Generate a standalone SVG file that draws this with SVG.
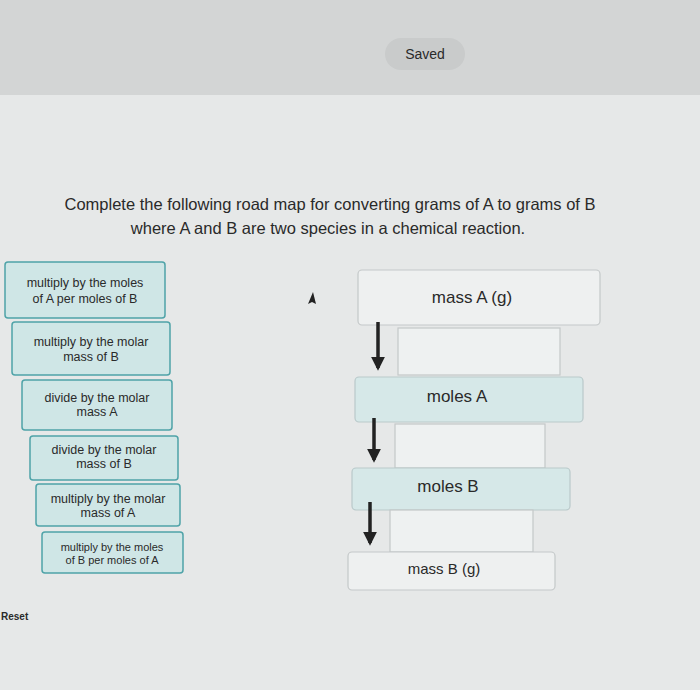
<svg xmlns="http://www.w3.org/2000/svg" width="700" height="690" viewBox="0 0 700 690">
<defs>
<style>
text{font-family:"Liberation Sans",Arial,sans-serif;fill:#2a2a2a}
.opt{fill:#cfe6e6;stroke:#4fa3a8;stroke-width:1.5}
.ot{font-size:12.5px;text-anchor:middle}
.slot{fill:#eef1f1;stroke:#c4c8c9;stroke-width:1.2}
.fill{fill:#d6e8e8;stroke:#b9c9ca;stroke-width:1.2}
.wt{fill:#eef0f0;stroke:#c4c8c9;stroke-width:1.2}
.lt{font-size:17px;text-anchor:middle}
</style>
<marker id="ah" viewBox="0 0 10 10" refX="8" refY="5" markerWidth="4" markerHeight="4" orient="auto"><path d="M0,0L10,5L0,10z" fill="#222"/></marker>
</defs>
<rect width="700" height="690" fill="#e4e6e6"/>
<rect width="700" height="95" fill="#d3d5d5"/>
<rect x="0" y="95" width="700" height="595" fill="#e6e8e8"/>
<g id="saved"><rect x="385" y="38" width="80" height="32" rx="16" fill="#c9cbcb"/><text x="425" y="59" font-size="14" text-anchor="middle">Saved</text></g>
<g id="title"><text x="330" y="210" font-size="16.5" text-anchor="middle">Complete the following road map for converting grams of A to grams of B</text><text x="328" y="234" font-size="16.5" text-anchor="middle">where A and B are two species in a chemical reaction.</text></g>
<g id="o1"><rect class="opt" x="5" y="262" width="160" height="56" rx="3"/><text class="ot" x="85" y="287">multiply by the moles</text><text class="ot" x="85" y="303">of A per moles of B</text></g>
<g id="o2"><rect class="opt" x="12" y="322" width="158" height="53" rx="3"/><text class="ot" x="91" y="346">multiply by the molar</text><text class="ot" x="91" y="361">mass of B</text></g>
<g id="o3"><rect class="opt" x="22" y="380" width="150" height="50" rx="3"/><text class="ot" x="97" y="402">divide by the molar</text><text class="ot" x="97" y="416">mass A</text></g>
<g id="o4"><rect class="opt" x="30" y="436" width="148" height="44" rx="3"/><text class="ot" x="104" y="454">divide by the molar</text><text class="ot" x="104" y="468">mass of B</text></g>
<g id="o5"><rect class="opt" x="36" y="484" width="144" height="42" rx="3"/><text class="ot" x="108" y="503" font-size="12">multiply by the molar</text><text class="ot" x="108" y="517" font-size="12">mass of A</text></g>
<g id="o6"><rect class="opt" x="42" y="532" width="141" height="41" rx="3"/><text class="ot" x="112" y="551" style="font-size:11px">multiply by the moles</text><text class="ot" x="112" y="564" style="font-size:11px">of B per moles of A</text></g>
<g id="massA"><rect class="wt" x="358" y="270" width="242" height="55" rx="4"/><text class="lt" x="472" y="303">mass A (g)</text></g>
<g id="s1"><rect class="slot" x="398" y="328" width="162" height="47"/></g>
<g id="molesA"><rect class="fill" x="355" y="377" width="228" height="45" rx="4"/><text class="lt" x="457" y="402">moles A</text></g>
<g id="s2"><rect class="slot" x="395" y="424" width="150" height="44"/></g>
<g id="molesB"><rect class="fill" x="352" y="468" width="218" height="42" rx="4"/><text class="lt" x="448" y="492">moles B</text></g>
<g id="s3"><rect class="slot" x="390" y="510" width="143" height="42"/></g>
<g id="massB"><rect class="wt" x="348" y="552" width="207" height="38" rx="4"/><text class="lt" x="444" y="574" style="font-size:15px">mass B (g)</text></g>
<g id="connectors" stroke="#222" stroke-width="3.5" marker-end="url(#ah)">
<line x1="378" y1="322" x2="378" y2="368"/>
<line x1="374" y1="418" x2="374" y2="460"/>
<line x1="370" y1="502" x2="370" y2="543"/>
</g>
<path d="M313,292 l-5,12 l4,-2 l4,2z" fill="#222"/>
<text x="1" y="620" font-size="10" font-weight="bold">Reset</text>
</svg>
